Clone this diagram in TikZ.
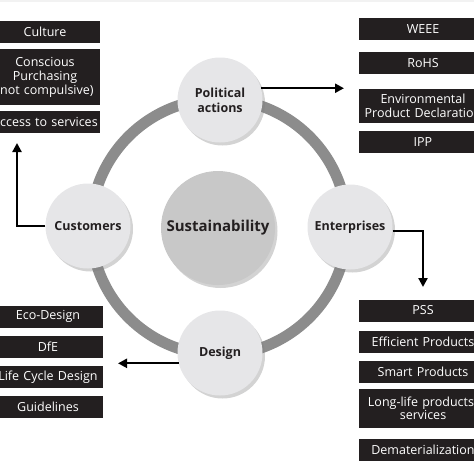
\documentclass[tikz,border=0pt]{standalone}
\usepackage{fontspec}
\setmainfont{Open Sans}
\usetikzlibrary{positioning, arrows.meta, shadows}

\definecolor{boxdark}{HTML}{231F20}
\definecolor{ringgray}{HTML}{8C8C8C}
\definecolor{bubble}{HTML}{E6E6E8}
\definecolor{coregray}{HTML}{C8C8C8}

\begin{document}
\begin{tikzpicture}[x=1pt, y=-1pt,
        arrow/.style = {-{Triangle[length=9pt, width=9pt]}, line width=2.2pt, black},
        bubblenode/.style = {circle, fill=bubble, minimum size=85pt, inner sep=0pt, align=center,
            font=\bfseries\fontsize{12.5}{15}\selectfont, text=boxdark,
            drop shadow={shadow xshift=2.5pt, shadow yshift=-3pt, opacity=0.35, fill=gray}},
        itembox/.style = {fill=boxdark, text=white, minimum height=22pt, inner sep=1pt,
            align=center, font=\fontsize{12.5}{13.6}\selectfont},
        leftbox/.style = {itembox, minimum width=110pt, text width=108pt},
        rightbox/.style = {itembox, minimum width=128pt, text width=126pt}
    ]
        \useasboundingbox (0,0) rectangle (474,474);
        \fill[gray!10] (0,0) rectangle (474,2);

        % ring and the four actors
        \draw[ringgray, line width=11pt] (219,227) circle[radius=128pt];
        \node[circle, fill=coregray, minimum size=114pt, inner sep=0pt, text=boxdark,
            font=\bfseries\fontsize{15}{17}\selectfont,
            drop shadow={shadow xshift=2.5pt, shadow yshift=-3pt, opacity=0.35, fill=gray}]
            (core) at (218,228) {Sustainability};
        \node[bubblenode] (pol) at (220,100) {Political\\actions};
        \node[bubblenode] (cust) at (88,226) {Customers};
        \node[bubblenode] (ent) at (350,227) {Enterprises};
        \node[bubblenode] (des) at (220,353) {Design};

        % customers
        \node[leftbox] (culture) at (45,32) {Culture};
        \node[leftbox, minimum height=56pt, below=6pt of culture] (conscious) {Conscious\\Purchasing\\(not compulsive)};
        \node[leftbox, below=5pt of conscious] (access) {Access to services};

        % political actions
        \node[rightbox] (weee) at (423,29) {WEEE};
        \node[rightbox, below=12pt of weee] (rohs) {RoHS};
        \node[rightbox, minimum height=34pt, below=14pt of rohs] (epd) {Environmental\\Product Declaration};
        \node[rightbox, below=8pt of epd] (ipp) {IPP};

        % enterprises
        \node[rightbox] (pss) at (423,310.5) {PSS};
        \node[rightbox, below=9pt of pss] (efficient) {Efficient Products};
        \node[rightbox, below=8pt of efficient] (smart) {Smart Products};
        \node[rightbox, minimum height=39pt, below=5pt of smart] (longlife) {Long-life products-\\services};
        \node[rightbox, below=11pt of longlife] (demat) {Dematerialization};

        % design
        \node[leftbox] (ecodesign) at (48,316.5) {Eco-Design};
        \node[leftbox, below=8pt of ecodesign] (dfe) {DfE};
        \node[leftbox, below=8pt of dfe] (lcd) {Life Cycle Design};
        \node[leftbox, below=7pt of lcd] (guide) {Guidelines};

        \coordinate (poltip) at (344,88);
        \coordinate (custtip) at (17,143);
        \coordinate (enttip) at (423,287);
        \coordinate (destip) at (118,363);

        \draw[arrow] (pol.16) -- (pol.16 -| poltip);
        \draw[arrow] (cust.west) -| (custtip);
        \draw[arrow] (ent.-5) -| (enttip);
        \draw[arrow] (des.194) -- (des.194 -| destip);
    \end{tikzpicture}
\end{document}
